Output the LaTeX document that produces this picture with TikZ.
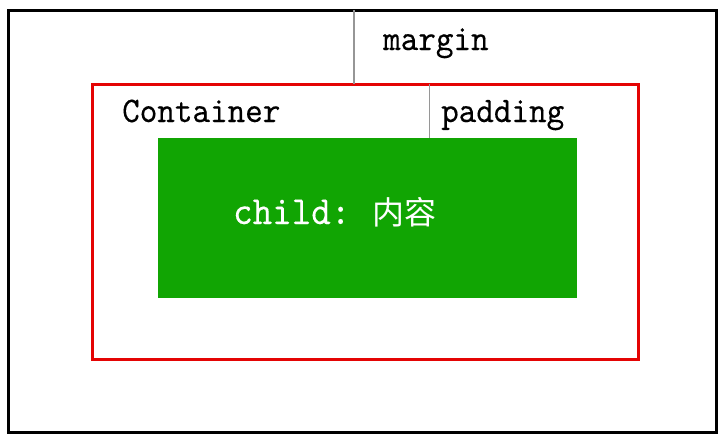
\documentclass[tikz,border=0pt]{standalone}
\usepackage{fontspec}
\setmonofont[Extension=.otf,FakeStretch=0.93,FakeBold=0.25]{lmmono10-regular}
\newfontfamily\cjk{Noto Sans CJK SC}
\usepackage{xcolor}
\usetikzlibrary{calc,positioning}

\definecolor{boxred}{RGB}{228,4,4}
\definecolor{childgreen}{RGB}{17,165,3}
\definecolor{rulegray}{RGB}{150,150,150}

\begin{document}
\begin{tikzpicture}[x=1pt,y=-1pt]

\useasboundingbox (0,0) rectangle (723,442);

\tikzstyle{mybox} = [rectangle, inner sep=0pt, outer sep=0pt, line width=3pt]
\tikzstyle{mylabel} = [inner sep=0pt, anchor=base west, font=\ttfamily\fontsize{36}{38}\selectfont]

\node (outer) [mybox,draw=black,minimum width=708pt,minimum height=422pt] at (362,221) {};
\node (container) [mybox,draw=boxred,minimum width=546pt,minimum height=275pt] at (365,221.5) {};
\node (child) [mybox,fill=childgreen,minimum width=419pt,minimum height=160pt] at (367.5,218) {};

% the two rulers
\coordinate (m) at (354,0);
\coordinate (p) at (429.5,0);
\draw[rulegray,line width=1.5pt] (outer.north -| m) -- (container.north -| m);
\draw[rulegray,line width=1.5pt] (container.north -| p) -- (child.north -| p);

\node (margin) [mylabel] at (383,50) {margin};
\node (cname) [mylabel] at (122,122) {Container};
\node (padding) [mylabel] at (441,122) {padding};
\node (content) [mylabel,text=white,font=\ttfamily\fontsize{40}{42}\selectfont] at (233,224) {child:\hspace{22pt}{\cjk\fontsize{32}{34}\selectfont 内容}};

\end{tikzpicture}
\end{document}
